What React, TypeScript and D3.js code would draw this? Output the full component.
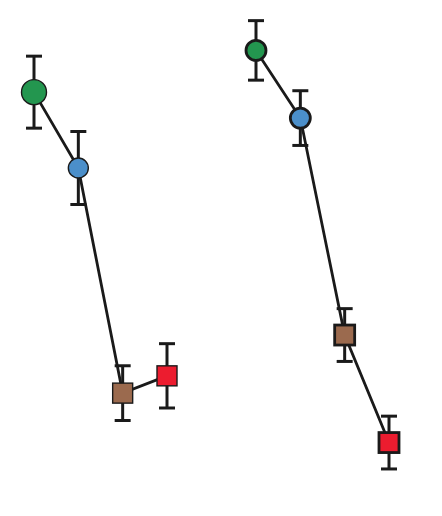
import React, {FC, useEffect, useRef} from 'react';
import * as d3 from 'd3';

// four conditions per panel, plotted left to right
const categories = ['A', 'B', 'C', 'D'];
const markerShapes = ['circle', 'circle', 'square', 'square'];
const markerColors = ['#23964f', '#4b8fca', '#9b6a4e', '#ec1c2f'];

// left panel: means and error half-widths
const leftMeans = [8.08, 6.5, 1.81, 2.17];
const leftErrors = [0.75, 0.76, 0.57, 0.67];

// right panel
const rightMeans = [8.95, 7.54, 3.02, 0.78];
const rightErrors = [0.62, 0.57, 0.55, 0.55];

const WIDTH = 442;
const HEIGHT = 516;

const App: FC = () => {
  const ref = useRef<SVGSVGElement>(null);

  useEffect(() => {
    const svg = d3.select(ref.current);
    svg.selectAll('*').remove();

    const y = d3.scaleLinear().domain([0, 10]).range([480, 0]);

    const panels = [
      {means: leftMeans, errors: leftErrors, range: [34, 167], thin: true},
      {means: rightMeans, errors: rightErrors, range: [256, 389], thin: false},
    ];

    panels.forEach((p, pi) => {
      const x = d3
        .scalePoint<string>()
        .domain(categories)
        .range(p.range as [number, number]);
      const g = svg.append('g');
      const data = categories.map((c, i) => ({
        c,
        i,
        m: p.means[i],
        e: p.errors[i],
      }));

      // error bars
      const eb = g
        .selectAll('g.err')
        .data(data)
        .enter()
        .append('g')
        .attr('stroke', '#1a1a1a')
        .attr('stroke-width', 3);
      eb.append('line')
        .attr('x1', d => x(d.c)!)
        .attr('x2', d => x(d.c)!)
        .attr('y1', d => y(d.m - d.e))
        .attr('y2', d => y(d.m + d.e));
      [1, -1].forEach(s => {
        eb.append('line')
          .attr('x1', d => x(d.c)! - 8)
          .attr('x2', d => x(d.c)! + 8)
          .attr('y1', d => y(d.m + s * d.e))
          .attr('y2', d => y(d.m + s * d.e));
      });

      // connecting line
      const line = d3
        .line<any>()
        .x(d => x(d.c)!)
        .y(d => y(d.m));
      g.append('path')
        .datum(data)
        .attr('d', line)
        .attr('fill', 'none')
        .attr('stroke', '#1a1a1a')
        .attr('stroke-width', 2.8);

      // markers
      const sw = p.thin ? 1.4 : 2.8;
      data.forEach(d => {
        const cx = x(d.c)!;
        const cy = y(d.m);
        if (markerShapes[d.i] === 'circle') {
          const r = pi === 0 && d.i === 0 ? 12.5 : 10;
          g.append('circle')
            .attr('cx', cx)
            .attr('cy', cy)
            .attr('r', r)
            .attr('fill', markerColors[d.i])
            .attr('stroke', '#1a1a1a')
            .attr('stroke-width', sw);
        } else {
          const s = 20;
          g.append('rect')
            .attr('x', cx - s / 2)
            .attr('y', cy - s / 2)
            .attr('width', s)
            .attr('height', s)
            .attr('fill', markerColors[d.i])
            .attr('stroke', '#1a1a1a')
            .attr('stroke-width', sw);
        }
      });
    });
  }, []);

  return (
    <svg
      ref={ref}
      width={WIDTH}
      height={HEIGHT}
      style={{position: 'absolute', left: 0, top: 0, background: '#fff'}}
    />
  );
};

export default App;
